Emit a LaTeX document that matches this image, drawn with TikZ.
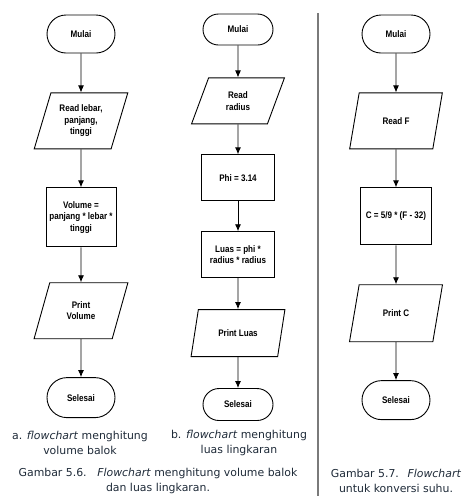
\documentclass[tikz,border=0pt]{standalone}
\usepackage{fontspec}
\setmainfont{DejaVu Sans}
\newfontfamily\chartfont{Liberation Sans}[FakeStretch=0.85]
\usepackage{xcolor}
\usetikzlibrary{positioning,arrows.meta,shapes.geometric,shapes.misc}
\definecolor{captext}{HTML}{1E2A38}
\definecolor{rulegray}{HTML}{7A7A7A}

\begin{document}
\begin{tikzpicture}[
      x=1pt, y=-1pt,
      chart/.style={draw, line width=0.9pt, align=center, inner sep=2pt,
        font=\chartfont\bfseries\fontsize{9.5}{11.5}\selectfont},
      term/.style={chart, rounded rectangle, minimum width=72pt, minimum height=38pt},
      io/.style={chart, trapezium, trapezium left angle=70, trapezium right angle=110,
        trapezium stretches=true, minimum width=94pt, minimum height=56pt},
      proc/.style={chart, rectangle, minimum width=70pt, minimum height=59pt},
      arr/.style={-{Latex[length=7pt,width=6pt]}, line width=0.9pt},
      figcap/.style={align=center, text=captext, font=\fontsize{10.9}{15}\selectfont},
    ]
    \useasboundingbox (0,0) rectangle (474,504);

    % a. volume balok
    \node[term] (mulaiA) at (81,34) {Mulai};
    \node[io, below=39pt of mulaiA] (readA) {Read lebar,\\panjang,\\tinggi};
    \node[proc, below=38pt of readA] (volA) {Volume =\\panjang * lebar *\\tinggi};
    \node[io, below=35pt of volA] (printA) {Print\\Volume};
    \node[term, below=38pt of printA, minimum height=40pt] (selesaiA) {Selesai};
    \draw[arr] (mulaiA) -- (readA);
    \draw[arr] (readA) -- (volA);
    \draw[arr] (volA) -- (printA);
    \draw[arr] (printA) -- (selesaiA);

    % b. luas lingkaran
    \node[term, minimum width=74pt, minimum height=31pt] (mulaiB) at (238,29.5) {Mulai};
    \node[io, below=32pt of mulaiB, minimum width=93pt, minimum height=46pt] (readB) {Read\\radius};
    \node[proc, below=30pt of readB, minimum width=73pt, minimum height=46pt] (phiB) {Phi = 3.14};
    \node[proc, below=30pt of phiB, minimum width=73pt, minimum height=46pt] (luasB) {Luas = phi *\\radius * radius};
    \node[io, below=31pt of luasB, minimum width=94pt, minimum height=47pt] (printB) {Print Luas};
    \node[term, below=31pt of printB, minimum width=74pt, minimum height=32pt] (selesaiB) {Selesai};
    \draw[arr] (mulaiB) -- (readB);
    \draw[arr] (readB) -- (phiB);
    \draw[arr] (phiB) -- (luasB);
    \draw[arr] (luasB) -- (printB);
    \draw[arr] (printB) -- (selesaiB);

    % konversi suhu
    \node[term] (mulaiC) at (396,34) {Mulai};
    \node[io, below=39pt of mulaiC, minimum width=93pt] (readC) {Read F};
    \node[proc, below=38pt of readC, minimum width=71pt, minimum height=57pt] (suhuC) {C = 5/9 * (F - 32)};
    \node[io, below=39pt of suhuC, minimum width=93pt, minimum height=57pt] (printC) {Print C};
    \node[term, below=38pt of printC, minimum height=39pt] (selesaiC) {Selesai};
    \draw[arr] (mulaiC) -- (readC);
    \draw[arr] (readC) -- (suhuC);
    \draw[arr] (suhuC) -- (printC);
    \draw[arr] (printC) -- (selesaiC);

    \draw[rulegray, line width=1.5pt] (318,13) -- (318,496);

    % captions
    \node[figcap] (capA) at (80,443) {a. \textit{flowchart} menghitung\\volume balok};
    \node[figcap] (capB) at (239,443) {b. \textit{flowchart} menghitung\\luas lingkaran};
    \node[figcap] (capFigA) at (158,481) {Gambar 5.6.\hspace{6pt} \textit{Flowchart} menghitung volume balok\\dan luas lingkaran.};
    \node[figcap] (capFigC) at (396,481) {Gambar 5.7.\hspace{4pt} \textit{Flowchart}\\untuk konversi suhu.};
  \end{tikzpicture}
\end{document}
